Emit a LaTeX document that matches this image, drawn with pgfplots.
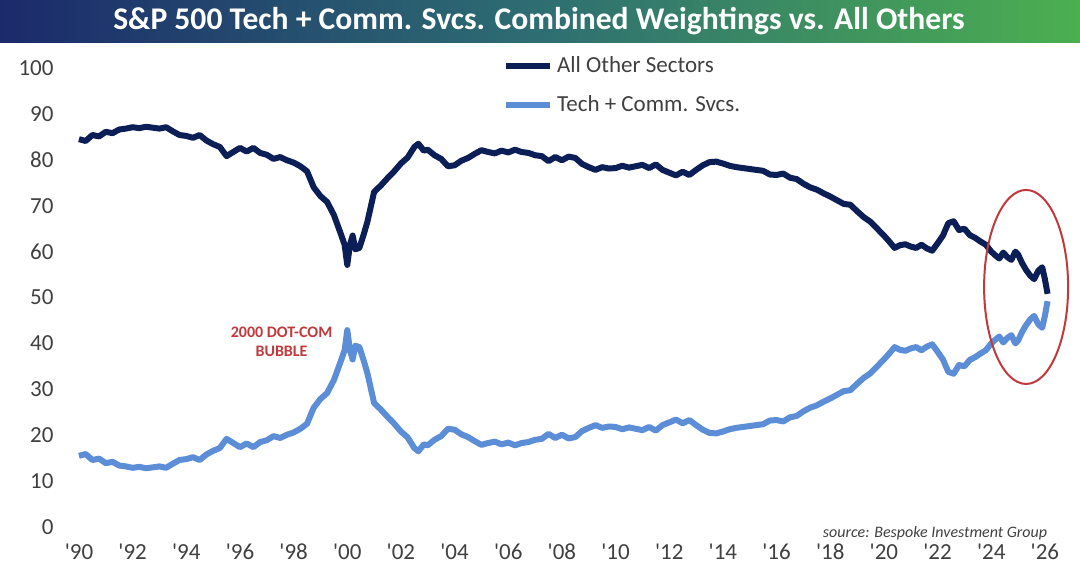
\documentclass[border=0pt]{standalone}
\usepackage{fontspec}
\setmainfont{Carlito}
\usepackage{pgfplots}
\pgfplotsset{compat=1.18}
\usepackage{pgfplotstable}
\definecolor{navy}{HTML}{0B1F56}
\definecolor{lblue}{HTML}{5B8ED6}
\definecolor{tg1}{HTML}{1B2A6B}
\definecolor{tg2}{HTML}{2E6E72}
\definecolor{tg3}{HTML}{4CAF50}
\definecolor{annred}{HTML}{C0393B}
\definecolor{ticktext}{HTML}{404040}

\pgfplotstableread{
year tech other
1990.00 15.5 84.5
1990.25 15.9 84.1
1990.50 14.6 85.4
1990.75 14.9 85.1
1991.00 13.9 86.1
1991.25 14.2 85.8
1991.50 13.4 86.6
1991.75 13.2 86.8
1992.00 12.9 87.1
1992.25 13.1 86.9
1992.50 12.8 87.2
1992.75 13.0 87.0
1993.00 13.2 86.8
1993.25 12.9 87.1
1993.50 13.8 86.2
1993.75 14.6 85.4
1994.00 14.8 85.2
1994.25 15.2 84.8
1994.50 14.6 85.4
1994.75 15.8 84.2
1995.00 16.6 83.4
1995.25 17.2 82.8
1995.50 19.2 80.8
1995.75 18.3 81.7
1996.00 17.4 82.6
1996.25 18.2 81.8
1996.50 17.4 82.6
1996.75 18.5 81.5
1997.00 18.9 81.1
1997.25 19.8 80.2
1997.50 19.4 80.6
1997.75 20.1 79.9
1998.00 20.6 79.4
1998.25 21.4 78.6
1998.50 22.5 77.5
1998.75 26.0 74.0
1999.00 27.9 72.1
1999.25 29.2 70.8
1999.50 32.0 68.0
1999.75 36.0 64.0
1999.90 38.5 61.5
2000.00 42.9 57.1
2000.10 38.5 61.5
2000.20 36.5 63.5
2000.30 39.5 60.5
2000.45 39.2 60.8
2000.60 36.5 63.5
2000.75 33.5 66.5
2001.00 27.0 73.0
2001.25 25.6 74.4
2001.50 24.0 76.0
2001.75 22.5 77.5
2002.00 20.8 79.2
2002.25 19.5 80.5
2002.50 17.2 82.8
2002.65 16.5 83.5
2002.85 18.0 82.0
2003.00 17.8 82.2
2003.25 19.0 81.0
2003.50 19.8 80.2
2003.75 21.4 78.6
2004.00 21.2 78.8
2004.25 20.2 79.8
2004.50 19.6 80.4
2004.75 18.7 81.3
2005.00 17.9 82.1
2005.25 18.3 81.7
2005.50 18.6 81.4
2005.75 18.0 82.0
2006.00 18.4 81.6
2006.25 17.8 82.2
2006.50 18.3 81.7
2006.75 18.5 81.5
2007.00 19.0 81.0
2007.25 19.2 80.8
2007.50 20.3 79.7
2007.75 19.4 80.6
2008.00 20.1 79.9
2008.25 19.3 80.7
2008.50 19.6 80.4
2008.75 20.9 79.1
2009.00 21.6 78.4
2009.25 22.2 77.8
2009.50 21.6 78.4
2009.75 21.9 78.1
2010.00 21.8 78.2
2010.25 21.3 78.7
2010.50 21.7 78.3
2010.75 21.4 78.6
2011.00 21.1 78.9
2011.25 21.8 78.2
2011.50 21.0 79.0
2011.75 22.2 77.8
2012.00 22.8 77.2
2012.25 23.4 76.6
2012.50 22.6 77.4
2012.75 23.3 76.7
2013.00 22.2 77.8
2013.25 21.2 78.8
2013.50 20.5 79.5
2013.75 20.4 79.6
2014.00 20.8 79.2
2014.25 21.3 78.7
2014.50 21.6 78.4
2014.75 21.8 78.2
2015.00 22.0 78.0
2015.25 22.2 77.8
2015.50 22.4 77.6
2015.75 23.2 76.8
2016.00 23.3 76.7
2016.25 23.0 77.0
2016.50 23.9 76.1
2016.75 24.2 75.8
2017.00 25.2 74.8
2017.25 26.0 74.0
2017.50 26.5 73.5
2017.75 27.3 72.7
2018.00 28.0 72.0
2018.25 28.8 71.2
2018.50 29.6 70.4
2018.75 29.8 70.2
2019.00 31.2 68.8
2019.25 32.5 67.5
2019.50 33.5 66.5
2019.75 35.0 65.0
2020.00 36.5 63.5
2020.20 37.8 62.2
2020.40 39.2 60.8
2020.60 38.6 61.4
2020.80 38.4 61.6
2021.00 38.9 61.1
2021.20 39.2 60.8
2021.40 38.5 61.5
2021.60 39.3 60.7
2021.80 39.8 60.2
2022.00 38.2 61.8
2022.20 36.5 63.5
2022.40 33.8 66.2
2022.60 33.4 66.6
2022.80 35.3 64.7
2023.00 35.0 65.0
2023.20 36.4 63.6
2023.40 37.0 63.0
2023.60 37.8 62.2
2023.80 38.5 61.5
2024.00 40.0 60.0
2024.15 40.8 59.2
2024.30 41.5 58.5
2024.45 40.2 59.8
2024.60 41.2 58.8
2024.75 41.8 58.2
2024.90 40.0 60.0
2025.00 40.6 59.4
2025.15 42.5 57.5
2025.30 44.0 56.0
2025.45 45.2 54.8
2025.60 46.0 54.0
2025.75 44.2 55.8
2025.90 43.4 56.6
2026.00 46.0 54.0
2026.10 49.2 50.8
}\data

\begin{document}
\begin{tikzpicture}
\useasboundingbox (0pt,0pt) rectangle (540pt,-287pt);
\shade[left color=tg1, right color=tg3, middle color=tg2] (0pt,0pt) rectangle (540pt,-21pt);
\node[white, font=\fontsize{15.8}{17}\selectfont\bfseries, inner sep=0pt] at (269.5pt,-10.5pt) {S\&P 500 Tech + Comm. Svcs. Combined Weightings vs. All Others};
\begin{axis}[
  at={(36.8pt,-263.5pt)}, anchor=south west,
  scale only axis, width=491pt, height=229.5pt,
  xmin=1989.8, xmax=2026.4, ymin=0, ymax=100,
  axis line style={draw=none}, major tick style={draw=none},
  ytick={0,10,...,100},
  xtick={1990,1992,...,2026},
  xticklabels={\textquotesingle90,\textquotesingle92,\textquotesingle94,\textquotesingle96,\textquotesingle98,\textquotesingle00,\textquotesingle02,\textquotesingle04,\textquotesingle06,\textquotesingle08,\textquotesingle10,\textquotesingle12,\textquotesingle14,\textquotesingle16,\textquotesingle18,\textquotesingle20,\textquotesingle22,\textquotesingle24,\textquotesingle26},
  /pgf/number format/assume math mode=true,
  ticklabel style={font=\fontsize{11.5}{13}\selectfont, text=ticktext},
  yticklabel style={xshift=-6.5pt},
  xticklabel style={yshift=-5pt},
  clip=false,
  legend style={at={(0.437,1.035)}, anchor=north west, draw=none, fill=none,
    font=\fontsize{11.5}{13}\selectfont, text=ticktext, row sep=6pt, inner sep=0pt,
    cells={anchor=west}},
  legend image code/.code={\draw[#1, line width=3pt] (0pt,0pt) -- (22pt,0pt);},
]
\addplot[navy, line width=3pt, line join=round] table[x=year, y=other] {\data};
\addlegendentry{All Other Sectors}
\addplot[lblue, line width=3pt, line join=round] table[x=year, y=tech] {\data};
\addlegendentry{Tech + Comm. Svcs.}
\draw[annred, line width=1pt] (axis cs:2025.3,52.3) ellipse [x radius=21pt, y radius=48.5pt];
\node[annred, font=\fontsize{8}{9.5}\selectfont\bfseries, align=center] at (axis cs:1997.55,40.3) {2000 DOT-COM\\BUBBLE};
\end{axis}
\node[text=ticktext, font=\fontsize{8}{9}\selectfont\itshape, inner sep=0pt] at (467.5pt,-266.5pt) {source: Bespoke Investment Group};
\end{tikzpicture}
\end{document}
